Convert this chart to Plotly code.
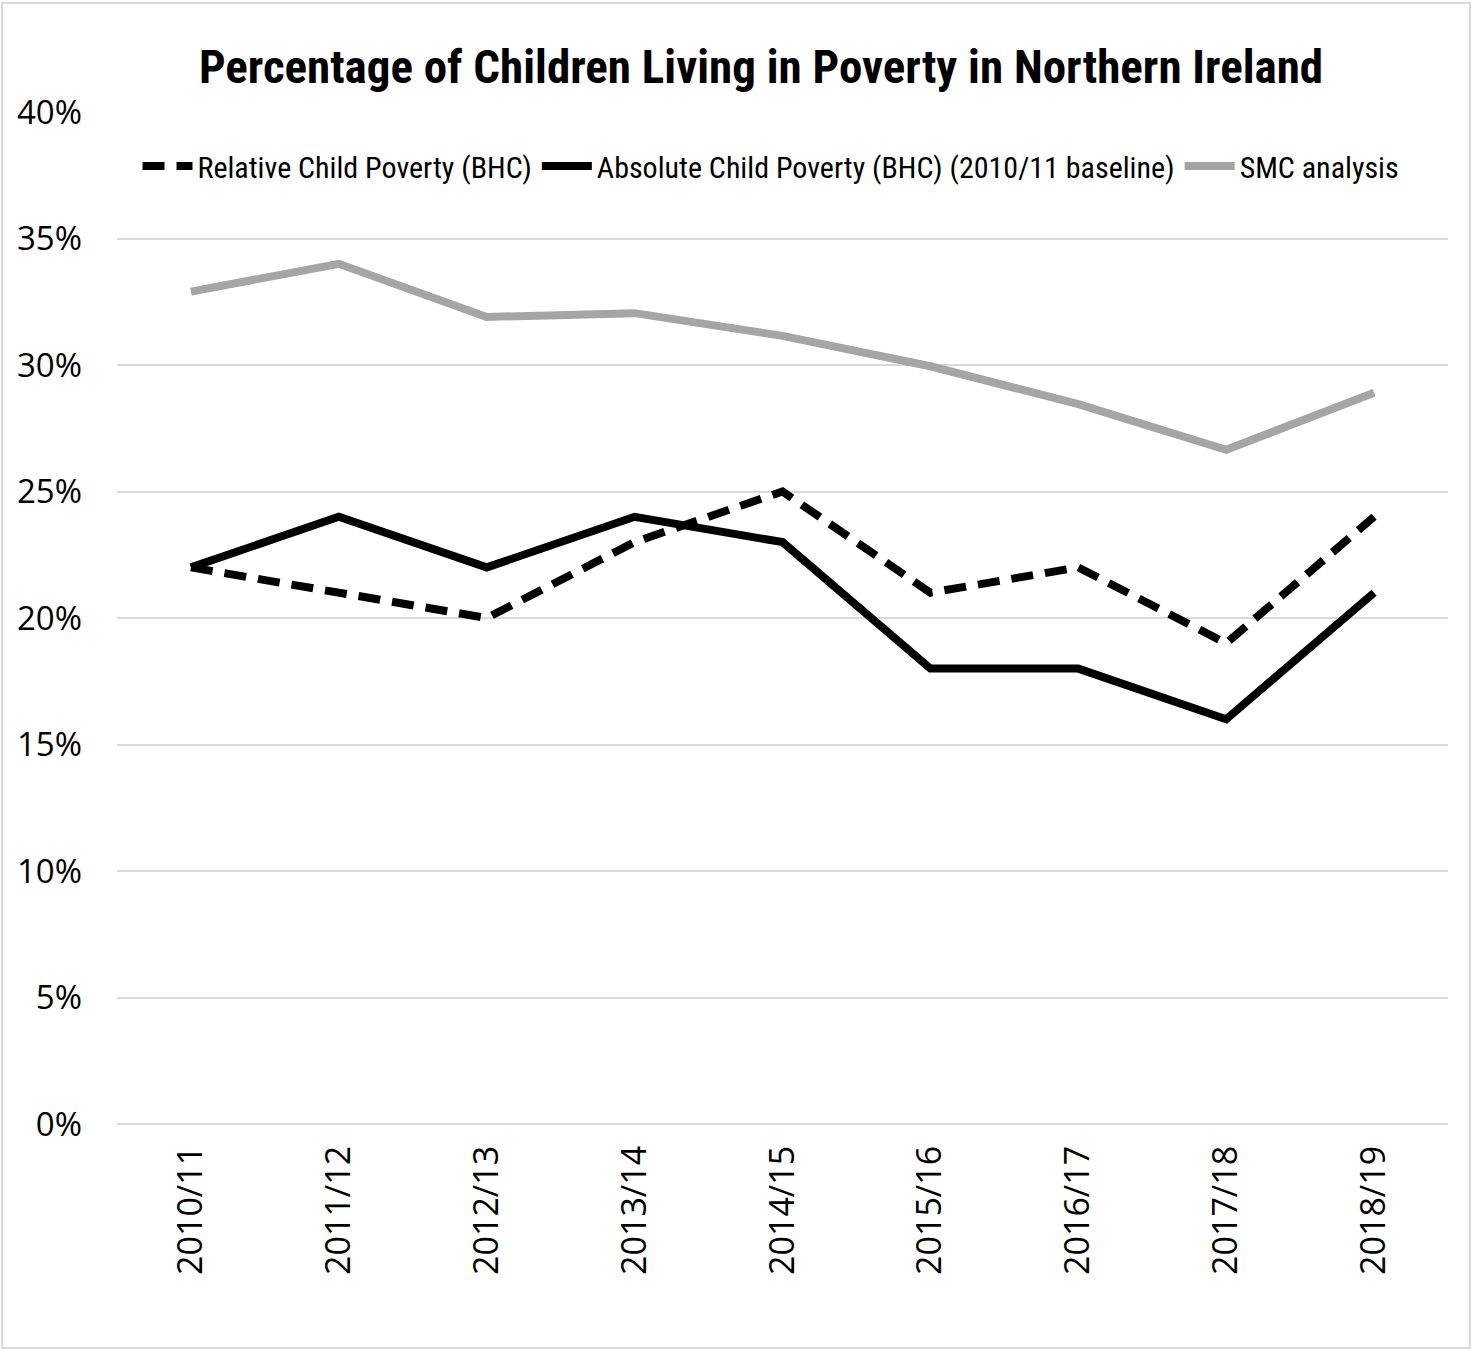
import plotly.graph_objects as go

years = ["2010/11", "2011/12", "2012/13", "2013/14", "2014/15", "2015/16", "2016/17", "2017/18", "2018/19"]
relative = [22, 21, 20, 23, 25, 21, 22, 19, 24]
absolute = [22, 24, 22, 24, 23, 18, 18, 16, 21]
smc = [32.9, 34.0, 31.9, 32.05, 31.15, 29.95, 28.45, 26.65, 28.9]

rel = [v / 100 for v in relative]
ab = [v / 100 for v in absolute]
sm = [v / 100 for v in smc]

fig = go.Figure()
fig.add_trace(go.Scatter(x=years, y=rel, mode="lines", name="Relative Child Poverty (BHC)",
                         line=dict(color="black", width=8, dash="22px,12px")))
fig.add_trace(go.Scatter(x=years, y=ab, mode="lines", name="Absolute Child Poverty (BHC) (2010/11 baseline)",
                         line=dict(color="black", width=8)))
fig.add_trace(go.Scatter(x=years, y=sm, mode="lines", name="SMC analysis",
                         line=dict(color="#a5a5a5", width=8)))

L, R, T, B = 117, 24, 112, 226
W, H = 1472, 1350
pw, ph = W - L - R, H - T - B

cond = "Liberation Sans Narrow, Roboto Condensed, Liberation Sans, Arial"
fig.update_layout(
    width=W, height=H,
    margin=dict(l=L, r=R, t=T, b=B),
    paper_bgcolor="white", plot_bgcolor="white",
    title=dict(text="<b>Percentage of Children Living in Poverty in Northern Ireland</b>",
               x=761 / W, xref="container", xanchor="center", y=1 - 67 / H, yanchor="middle",
               font=dict(family=cond, size=47, color="black")),
    legend=dict(orientation="h", x=(771 - L) / pw, xref="paper", xanchor="center", y=1 - (166 - T) / ph, yanchor="middle",
                font=dict(family=cond, size=30, color="black"),
                bgcolor="rgba(0,0,0,0)", itemwidth=50),
    showlegend=True,
)
fig.update_xaxes(type="category", range=[-0.5, 8.5], showgrid=False, showline=False, zeroline=False,
                 tickangle=-90, ticks="", ticklabelstandoff=14,
                 tickfont=dict(family="Open Sans, Noto Sans, sans-serif", size=34, color="black"))
fig.update_yaxes(range=[0, 0.40], dtick=0.05, tickformat=".0%", showgrid=True, gridcolor="#d9d9d9", gridwidth=2,
                 zeroline=True, zerolinecolor="#d9d9d9", zerolinewidth=2, showline=False, ticks="",
                 ticklabelstandoff=34,
                 tickfont=dict(family="Open Sans, Noto Sans, sans-serif", size=33, color="black"))

# outer border of the chart image
x0 = (2 - L) / pw
x1 = (W - 2 - L) / pw
y1 = (H - B - 3) / ph
y0 = (H - B - (H - 2)) / ph
fig.add_shape(type="rect", xref="paper", yref="paper", x0=x0, x1=x1, y0=y0, y1=y1,
              line=dict(color="#d9d9d9", width=2), fillcolor="rgba(0,0,0,0)", layer="below")

fig.write_html("out.html")
